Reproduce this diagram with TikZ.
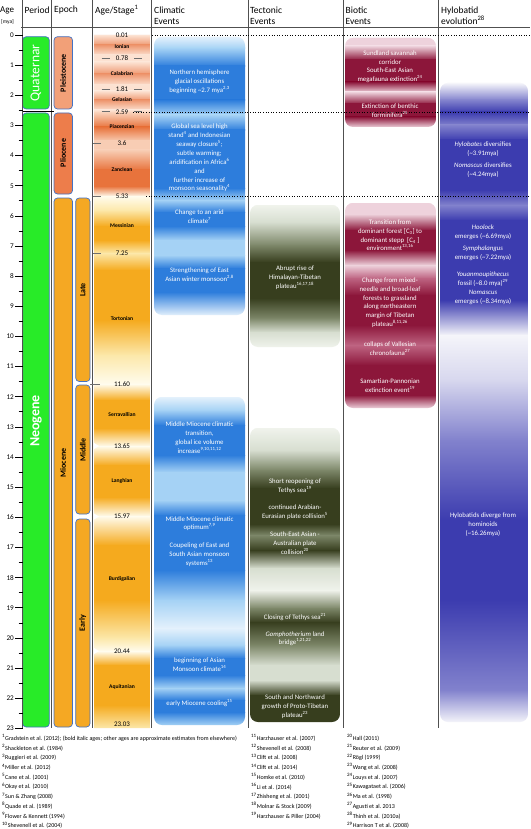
\documentclass[tikz,border=0pt]{standalone}
\usepackage{fontspec}
\setmainfont{Carlito}
\definecolor{cd}{RGB}{45,125,220}
\definecolor{cl}{RGB}{165,210,245}
\definecolor{cw}{RGB}{228,241,252}
\definecolor{td}{RGB}{55,62,30}
\definecolor{tm}{RGB}{125,135,105}
\definecolor{tl}{RGB}{215,222,208}
\definecolor{tw}{RGB}{240,243,236}
\definecolor{bd}{RGB}{140,22,58}
\definecolor{bm}{RGB}{190,100,130}
\definecolor{bl}{RGB}{238,210,220}
\definecolor{hd}{RGB}{60,60,175}
\definecolor{hm}{RGB}{130,130,205}
\definecolor{hl}{RGB}{215,215,238}
\definecolor{hw}{RGB}{245,245,250}
\definecolor{qd}{RGB}{238,150,110}
\definecolor{ql}{RGB}{252,226,210}
\definecolor{pd}{RGB}{232,115,60}
\definecolor{pl}{RGB}{248,205,180}
\definecolor{md}{RGB}{245,170,30}
\definecolor{ml}{RGB}{252,232,170}
\definecolor{mw}{RGB}{255,252,238}
\definecolor{pgreen}{RGB}{40,235,40}
\definecolor{boxblue}{RGB}{68,114,196}
\definecolor{sepgray}{RGB}{80,80,80}
\definecolor{tickgray}{RGB}{110,110,110}
\definecolor{pleis}{RGB}{242,160,120}
\definecolor{plio}{RGB}{237,125,75}
\definecolor{mio}{RGB}{245,168,35}
\newcommand{\gradbox}[6]{%
  \begin{scope}
    \clip[rounded corners=#5] (#1,#2) rectangle (#3,#4);
    \foreach \yy/\cc [remember=\yy as \py (initially 0), remember=\cc as \pc (initially white)] in {#6} {
      \shade[top color=\pc, bottom color=\cc] (#1,\py) rectangle (#3,{\yy+0.4});
    }
  \end{scope}}
\begin{document}
\begin{tikzpicture}[x=1pt,y=-1pt,
  evt/.style={align=center,text=white,font=\fontsize{6.8}{8.9}\selectfont,inner sep=0pt},
  hdr/.style={anchor=west,font=\fontsize{9.5}{11}\selectfont,inner sep=0pt},
  agenum/.style={font=\fontsize{7}{8}\selectfont,inner sep=0pt},
  stagename/.style={font=\bfseries\fontsize{5.6}{7}\selectfont,inner sep=0pt},
  axlab/.style={anchor=east,font=\fontsize{7.2}{8}\selectfont,inner sep=0pt},
  sepline/.style={draw=sepgray,line width=0.8pt},
  pbox/.style={draw=boxblue,line width=0.7pt,rounded corners=3.5pt},
  eplab/.style={rotate=90,font=\bfseries\fontsize{8}{9}\selectfont,inner sep=0pt},
  fn/.style={anchor=west,font=\fontsize{6}{7}\selectfont,inner sep=0pt},
  bnd/.style={draw=black,dotted,line width=0.6pt},
  stick/.style={draw=tickgray,line width=0.7pt}]
\useasboundingbox (0,0) rectangle (530,829);
\fill[white] (0,0) rectangle (530,829);

% ---- gradient bands ----
\gradbox{94}{35}{150}{728}{0.01pt}{35/ql,45/qd,55/ql,62/ql,74/qd,85/ql,91/ql,100/qd,110/ql,113/pl,127/pd,141/pl,150/pl,170/pd,186/pd,196/mw,210/ml,226/md,240/md,253/ml,270/md,320/md,355/ml,384/mw,400/md,428/md,446/mw,465/md,497/md,516/mw,545/md,600/md,638/ml,651/mw,665/md,705/md,728/ml}
\gradbox{154}{37}{245}{315}{8pt}{37/cw,48/cl,66/cd,100/cd,115/cl,130/cd,188/cd,200/cl,212/cd,226/cd,240/cl,255/cl,268/cd,292/cd,315/cw}
\gradbox{154}{397}{245}{725}{8pt}{397/cw,410/cl,425/cd,455/cd,472/cl,500/cl,515/cd,570/cd,600/cl,628/cw,645/cl,658/cd,675/cd,688/cl,700/cd,712/cd,725/cl}
\gradbox{250}{205}{340}{347}{8pt}{205/tw,222/tl,245/tm,262/td,298/td,318/tm,332/tl,347/tw}
\gradbox{250}{428}{340}{722}{8pt}{428/tw,450/tl,470/tm,488/td,524/td,535/tm,550/td,568/tl,590/tw,608/tm,622/td,645/tm,665/tl,680/tl,695/td,722/td}
\gradbox{345}{38}{436}{127}{8pt}{38/bl,46/bl,60/bd,82/bd,92/bl,104/bd,117/bd,127/bl}
\gradbox{345}{203}{436}{408}{8pt}{203/bl,214/bl,230/bd,250/bd,265/bl,278/bm,295/bd,325/bd,345/bm,365/bd,395/bd,408/bl}
\gradbox{440}{83}{528}{722}{8pt}{83/hw,100/hm,112/hd,125/hm,140/hd,190/hd,205/hm,220/hd,300/hd,335/hw,380/hl,440/hm,520/hd,600/hd,690/hm,722/hw}

% ---- period / epoch boxes ----
\draw[pbox,fill=pgreen] (22.7,36.7) rectangle (49.3,109);
\draw[pbox,fill=pgreen] (22.7,113) rectangle (49.3,727);
\draw[pbox,fill=pleis] (54,36.7) rectangle (72.5,109);
\draw[pbox,fill=plio] (54,113) rectangle (72.5,194);
\draw[pbox,fill=mio] (54,198) rectangle (72.5,727);
\draw[pbox,fill=mio] (75.7,198) rectangle (90,381.5);
\draw[pbox,fill=mio] (75.7,385) rectangle (90,514);
\draw[pbox,fill=mio] (75.7,519) rectangle (90,727);
\node[rotate=90,text=white,font=\fontsize{13.5}{14}\selectfont,inner sep=0pt] (quat) at (36,73) {Quaternar};
\node[rotate=90,text=white,font=\bfseries\fontsize{14}{15}\selectfont,inner sep=0pt] (neog) at (36,421) {Neogene};
\node[eplab] (pleisl) at (63.2,73) {Pleistocene};
\node[eplab] (pliol) at (63.2,153) {Pliocene};
\node[eplab] (miol) at (63.2,463) {Miocene};
\node[eplab] (latel) at (82.8,290) {Late};
\node[eplab] (midl) at (82.8,450) {Middle};
\node[eplab] (earlyl) at (82.8,623) {Early};

% ---- column separators & header ----
\foreach \xx in {22.7,51.7,92.7,151.7,248.3,343.5,438.3} {\draw[sepline] (\xx,0) -- (\xx,728);}
\draw[sepline] (21,27.3) -- (530,27.3);
\node[anchor=west,font=\fontsize{9}{10}\selectfont,inner sep=0pt] (hage) at (0,10) {Age};
\node[anchor=west,font=\fontsize{5.5}{6}\selectfont,inner sep=0pt] (hmya) at (1,22) {[mya]};
\node[hdr] (hper) at (24.5,10) {Period};
\node[hdr] (hep) at (54,10) {Epoch};
\node[hdr] (hst) at (95,10) {Age/Stage\textsuperscript{1}};
\node[hdr,align=left] (hcl) at (154,15.5) {Climatic\\Events};
\node[hdr,align=left] (hte) at (250,15.5) {Tectonic\\Events};
\node[hdr,align=left] (hbi) at (345.5,15.5) {Biotic\\Events};
\node[hdr,align=left] (hhy) at (441,15.5) {Hylobatid\\evolution\textsuperscript{28}};

% ---- age axis ----
\foreach \a in {0,...,23} {
  \pgfmathsetmacro\yy{35+30.15*\a}
  \node[axlab] (ax\a) at (14,\yy) {\a};
  \draw[line width=0.8pt] (15,\yy) -- (22.7,\yy);
}
\foreach \a in {0.5,1.5,...,22.5} {
  \pgfmathsetmacro\yy{35+30.15*\a}
  \draw[line width=0.8pt] (18.5,\yy) -- (22.7,\yy);
}

% ---- stage boundary marks ----
\foreach \yy in {58.5,89.6,111.8} {
  \draw[stick] (101.5,\yy) -- (110,\yy);
  \draw[stick] (134,\yy) -- (142,\yy);
}
\draw[line width=0.5pt] (22.7,111.5) -- (53.5,111.5);
\foreach \yy in {143,196,253} {\draw[stick] (92.7,\yy) -- (101,\yy);}
\draw[stick] (90,384) -- (100,384);
\foreach \yy in {446,516.5,651} {\fill[white] (94,\yy-3) -- (99,\yy) -- (94,\yy+3) -- cycle;}

% ---- stage labels ----
\node[agenum] (s001) at (122,35.5) {0.01};
\node[stagename] (sion) at (122,46.3) {Ionian};
\node[agenum] (s078) at (122,58.5) {0.78};
\node[stagename] (scal) at (122,74) {Calabrian};
\node[agenum] (s181) at (122,89.6) {1.81};
\node[stagename] (sgel) at (122,99.3) {Gelasian};
\node[agenum] (s259) at (122,111.8) {2.59};
\node[stagename] (spia) at (122,126.7) {Piacenzian};
\node[agenum] (s36) at (122,143) {3.6};
\node[stagename] (szan) at (122,170) {Zanclean};
\node[agenum] (s533) at (122,196) {5.33};
\node[stagename] (smes) at (122,225.7) {Messinian};
\node[agenum] (s725) at (122,253) {7.25};
\node[stagename] (stor) at (122,318.3) {Tortonian};
\node[agenum] (s1160) at (122,384) {11.60};
\node[stagename] (sser) at (122,415) {Serravallian};
\node[agenum] (s1365) at (122,446) {13.65};
\node[stagename] (slan) at (122,481) {Langhian};
\node[agenum] (s1597) at (122,516.5) {15.97};
\node[stagename] (sbur) at (122,579.3) {Burdigalian};
\node[agenum] (s2044) at (122,651) {20.44};
\node[stagename] (saqu) at (122,686.7) {Aquitanian};
\node[agenum] (s2303) at (122,724) {23.03};

% ---- boundary dotted lines ----
\draw[bnd] (152,35) -- (530,35);
\draw[bnd] (133,112) -- (530,112);
\draw[bnd] (146,196) -- (530,196);

% ---- climatic events ----
\node[evt] (c1) at (199.5,81.7) {Northern hemisphere\\glacial oscillations\\beginning \textasciitilde2.7 mya\textsuperscript{2,3}};
\node[evt] (c2) at (199.5,158) {Global sea level high\\stand\textsuperscript{4} and Indonesian\\seaway closure\textsuperscript{5};\\subtle warming;\\aridification in Africa\textsuperscript{6}\\and\\further increase of\\monsoon seasonality\textsuperscript{4}};
\node[evt] (c3) at (199.5,216.5) {Change to an arid\\climate\textsuperscript{7}};
\node[evt] (c4) at (199.5,274.5) {Strengthening of East\\Asian winter monsoon\textsuperscript{2,8}};
\node[evt] (c5) at (199.5,437.8) {Middle Miocene climatic\\transition,\\global ice volume\\increase\textsuperscript{9,10,11,12}};
\node[evt] (c6) at (199.5,523.7) {Middle Miocene climatic\\optimum\textsuperscript{7,9}};
\node[evt] (c7) at (199.5,554.8) {Coupeling of East and\\South Asian monsoon\\systems\textsuperscript{13}};
\node[evt] (c8) at (199.5,664.7) {beginning of Asian\\Monsoon climate\textsuperscript{14}};
\node[evt] (c9) at (199.5,703.3) {early Miocene cooling\textsuperscript{15}};

% ---- tectonic events ----
\node[evt] (t1) at (295,277.4) {Abrupt rise of\\Himalayan-Tibetan\\plateau\textsuperscript{16,17,18}};
\node[evt] (t2) at (295,486.2) {Short reopening of\\Tethys sea\textsuperscript{19}};
\node[evt] (t3) at (295,512.5) {continued Arabian-\\Eurasian plate collision\textsuperscript{5}};
\node[evt] (t4) at (295,543.3) {South-East Asian -\\Australian plate\\collision\textsuperscript{20}};
\node[evt] (t5) at (295,616.7) {Closing of Tethys sea\textsuperscript{21}};
\node[evt] (t6) at (295,638.7) {\textit{Gomphotherium} land\\bridge\textsuperscript{1,21,22}};
\node[evt] (t7) at (295,706.7) {South and Northward\\growth of Proto-Tibetan\\plateau\textsuperscript{23}};

% ---- biotic events ----
\node[evt] (b1) at (390,66.7) {Sundland savannah\\corridor\\South-East Asian\\megafauna extinction\textsuperscript{24}};
\node[evt] (b2) at (390,110.3) {Extinction of benthic\\forminifera\textsuperscript{25}};
\node[evt] (b3) at (390,235.3) {Transition from\\dominant forest [C\textsubscript{3}] to\\dominant stepp\ \ [C\textsubscript{4} ]\\environment\textsuperscript{13,16}};
\node[evt] (b4) at (390,302.7) {Change from mixed-\\needle and broad-leaf\\forests to grassland\\along northeastern\\margin of Tibetan\\plateau\textsuperscript{8,11,26}};
\node[evt] (b5) at (390,348.5) {collaps of Vallesian\\chronofauna\textsuperscript{27}};
\node[evt] (b6) at (390,385.5) {Samartian-Pannonian\\extinction event\textsuperscript{19}};

% ---- hylobatid evolution ----
\node[evt] (h1) at (483,149.2) {\textit{Hylobates} diversifies\\(\textasciitilde3.91mya)};
\node[evt] (h2) at (483,170.5) {\textit{Nomascus} diversifies\\(\textasciitilde4.24mya)};
\node[evt] (h3) at (483,232.2) {\textit{Hoolock}\\emerges (\textasciitilde6.69mya)};
\node[evt] (h4) at (483,252.8) {\textit{Symphalangus}\\emerges (\textasciitilde7.22mya)};
\node[evt] (h5) at (483,288) {\textit{Youanmoupithecus}\\fossil (\textasciitilde8.0 mya)\textsuperscript{29}\\\textit{Nomascus}\\emerges (\textasciitilde8.34mya)};
\node[evt] (h6) at (483,525) {Hylobatids diverge from\\hominoids\\(\textasciitilde16.26mya)};

% ---- footnotes ----
\foreach \t [count=\i from 0] in {
  {\textsuperscript{1}Gradstein et al. (2012); (bold italic ages; other ages are approximate estimates from elsewhere)},
  {\textsuperscript{2}Shackleton et al. (1984)},
  {\textsuperscript{3}Ruggieri et al. (2009)},
  {\textsuperscript{4}Miller et al. (2012)},
  {\textsuperscript{5}Cane et al. (2001)},
  {\textsuperscript{6}Okay et al. (2010)},
  {\textsuperscript{7}Sun \& Zhang (2008)},
  {\textsuperscript{8}Quade et al. (1989)},
  {\textsuperscript{9}Flower \& Kennett (1994)},
  {\textsuperscript{10}Shevenell et al. (2004)}} {
  \node[fn] (fa\i) at (2,{738+9.7*\i}) {\t};
}
\foreach \t [count=\i from 0] in {
  {\textsuperscript{11}Harzhauser et al. (2007)},
  {\textsuperscript{12}Shevenell et al. (2008)},
  {\textsuperscript{13}Clift et al. (2008)},
  {\textsuperscript{14}Clift et al. (2014)},
  {\textsuperscript{15}Homke et al. (2010)},
  {\textsuperscript{16}Li et al. (2014)},
  {\textsuperscript{17}Zhisheng et al. (2001)},
  {\textsuperscript{18}Molnar \& Stock (2009)},
  {\textsuperscript{19}Harzhauser \& Piller (2004)}} {
  \node[fn] (fb\i) at (251,{738+9.7*\i}) {\t};
}
\foreach \t [count=\i from 0] in {
  {\textsuperscript{20}Hall (2011)},
  {\textsuperscript{21}Reuter et al. (2009)},
  {\textsuperscript{22}Rögl (1999)},
  {\textsuperscript{23}Wang et al. (2008)},
  {\textsuperscript{24}Louys et al. (2007)},
  {\textsuperscript{25}Kawagataet al. (2006)},
  {\textsuperscript{26}Ma et al. (1998)},
  {\textsuperscript{27}Agusti et al.\ 2013},
  {\textsuperscript{28}Thinh et al. (2010a)},
  {\textsuperscript{29}Harrison T et al. (2008)}} {
  \node[fn] (fc\i) at (347,{738+9.7*\i}) {\t};
}
\end{tikzpicture}
\end{document}
